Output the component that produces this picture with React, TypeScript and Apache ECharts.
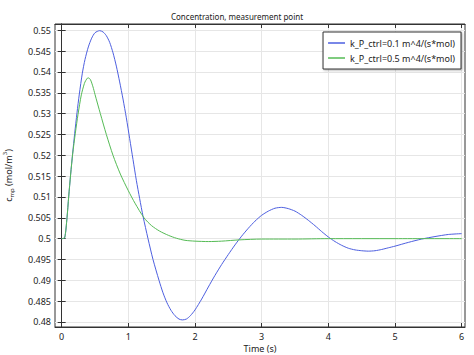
import React, { useEffect, useRef } from "react";
import * as echarts from "echarts";

const titleText = "Concentration, measurement point";
const seriesNames = ["k_P_ctrl=0.1 m^4/(s*mol)", "k_P_ctrl=0.5 m^4/(s*mol)"];
const xTicks = [0, 1, 2, 3, 4, 5, 6];
const yTicks = [0.48, 0.485, 0.49, 0.495, 0.5, 0.505, 0.51, 0.515, 0.52, 0.525, 0.53, 0.535, 0.54, 0.545, 0.55];

const tBlue = [0, 0.045, 0.08, 0.105, 0.135, 0.165, 0.195, 0.23, 0.265, 0.31, 0.35, 0.4, 0.45, 0.5, 0.57, 0.62, 0.67, 0.72, 0.77, 0.82, 0.87, 0.92, 0.97, 1.02, 1.07, 1.12, 1.17, 1.22, 1.295, 1.37, 1.46, 1.52, 1.58, 1.64, 1.7, 1.76, 1.81, 1.87, 1.93, 2.0, 2.1, 2.2, 2.3, 2.4, 2.5, 2.6, 2.7, 2.8, 2.9, 3.0, 3.1, 3.2, 3.3, 3.4, 3.5, 3.6, 3.7, 3.8, 3.9, 4.0, 4.1, 4.2, 4.3, 4.4, 4.5, 4.6, 4.7, 4.8, 4.9, 5.0, 5.2, 5.4, 5.6, 5.8, 6.0];
const vBlue = [0.5, 0.5002, 0.505, 0.51, 0.5155, 0.5205, 0.5252, 0.5302, 0.5347, 0.5397, 0.543, 0.546, 0.5481, 0.5494, 0.5499, 0.5496, 0.5487, 0.5471, 0.5446, 0.5414, 0.5376, 0.5335, 0.529, 0.524, 0.519, 0.514, 0.5096, 0.5054, 0.5, 0.495, 0.49, 0.487, 0.4846, 0.4828, 0.4815, 0.4807, 0.4805, 0.4807, 0.4815, 0.4829, 0.4855, 0.4884, 0.4912, 0.4938, 0.4962, 0.4985, 0.5006, 0.5025, 0.5042, 0.5056, 0.5066, 0.5073, 0.5075, 0.5072, 0.5066, 0.5056, 0.5044, 0.5031, 0.5017, 0.5004, 0.4993, 0.4984, 0.4977, 0.4973, 0.4971, 0.497, 0.4971, 0.4974, 0.4978, 0.4982, 0.4991, 0.4999, 0.5005, 0.501, 0.5012];

const tGreen = [0, 0.045, 0.08, 0.105, 0.135, 0.165, 0.205, 0.245, 0.295, 0.34, 0.36, 0.395, 0.43, 0.47, 0.5, 0.58, 0.67, 0.77, 0.88, 1.0, 1.1, 1.235, 1.35, 1.47, 1.6, 1.72, 1.85, 2.0, 2.2, 2.4, 2.66, 3.0, 3.5, 4.0, 5.0, 6.0];
const vGreen = [0.5, 0.5002, 0.505, 0.51, 0.5155, 0.5203, 0.5253, 0.5298, 0.5345, 0.5372, 0.5379, 0.5386, 0.5382, 0.5364, 0.5346, 0.53, 0.525, 0.52, 0.5155, 0.5115, 0.5085, 0.505, 0.5031, 0.5018, 0.5008, 0.5001, 0.4996, 0.4994, 0.4993, 0.4994, 0.4997, 0.4999, 0.4999, 0.5, 0.5, 0.5];

const FONT = "Noto Sans";
const TXT = "#222";

export default function App() {
  const ref = useRef<HTMLDivElement>(null);
  useEffect(() => {
    if (!ref.current) return;
    const chart = echarts.init(ref.current, undefined, { renderer: "svg" });
    const xMin = -0.1, xMax = 6.05, yMin = 0.4788, yMax = 0.5515;
    const fmtY = (v: number) => String(+v.toFixed(3));
    const tickCommon = { inside: true, length: 4, lineStyle: { color: "#333" } };
    const lineCommon = { show: true, lineStyle: { color: "#333", width: 1 } };
    chart.setOption({
      animation: false,
      textStyle: { fontFamily: FONT },
      title: {
        text: titleText,
        left: "center",
        top: 7,
        textStyle: { fontSize: 8, fontWeight: "normal", color: TXT, fontFamily: FONT },
      },
      grid: { left: 55, right: 9, top: 24, bottom: 28, show: true, borderColor: "#333", borderWidth: 1, outerBoundsMode: "none", containLabel: false },
      legend: {
        orient: "vertical",
        right: 13,
        top: 32,
        padding: [5, 6, 5, 5],
        itemGap: 3,
        itemWidth: 17,
        itemHeight: 1.5,
        icon: "rect",
        borderColor: "#333",
        borderWidth: 1,
        backgroundColor: "#fff",
        shadowBlur: 2,
        shadowOffsetX: 1,
        shadowOffsetY: 1,
        shadowColor: "rgba(0,0,0,0.3)",
        textStyle: { fontSize: 9, color: TXT, fontFamily: FONT, lineHeight: 12 },
        data: seriesNames,
      },
      xAxis: [
        {
          type: "value",
          min: xMin,
          max: xMax,
          name: "Time (s)",
          nameLocation: "middle",
          nameGap: 16,
          nameMoveOverlap: false,
          nameTextStyle: { fontSize: 9, color: TXT, fontFamily: FONT, lineHeight: 11 },
          axisLine: lineCommon,
          axisTick: { ...tickCommon, customValues: xTicks },
          axisLabel: { customValues: xTicks, fontSize: 9, color: TXT, margin: 5, fontFamily: FONT },
          splitLine: { show: true, lineStyle: { color: "#e6e6e6", width: 1 } },
        },
        {
          type: "value",
          position: "top",
          min: xMin,
          max: xMax,
          axisLine: lineCommon,
          axisTick: { ...tickCommon, customValues: xTicks },
          axisLabel: { show: false },
          splitLine: { show: false },
        },
      ],
      yAxis: [
        {
          type: "value",
          min: yMin,
          max: yMax,
          name: "{c|c}{sub|mp}{n| (mol/m}{sup|3}{n|)}",
          nameLocation: "middle",
          nameRotate: 90,
          nameGap: 40,
          nameMoveOverlap: false,
          nameTextStyle: {
            fontFamily: FONT,
            color: TXT,
            rich: {
              c: { fontSize: 9, color: TXT, fontFamily: FONT, lineHeight: 13, verticalAlign: "middle" },
              n: { fontSize: 9, color: TXT, fontFamily: FONT, lineHeight: 13, verticalAlign: "middle" },
              sub: { fontSize: 6, color: TXT, fontFamily: FONT, lineHeight: 13, verticalAlign: "bottom" },
              sup: { fontSize: 6, color: TXT, fontFamily: FONT, lineHeight: 13, verticalAlign: "top" },
            },
          },
          axisLine: lineCommon,
          axisTick: { ...tickCommon, customValues: yTicks },
          axisLabel: { customValues: yTicks, fontSize: 9, color: TXT, margin: 4, formatter: fmtY, fontFamily: FONT },
          splitLine: { show: true, lineStyle: { color: "#e6e6e6", width: 1 } },
        },
        {
          type: "value",
          position: "right",
          min: yMin,
          max: yMax,
          axisLine: lineCommon,
          axisTick: { ...tickCommon, customValues: yTicks },
          axisLabel: { show: false },
          splitLine: { show: false },
        },
      ],
      series: [
        {
          name: seriesNames[0],
          type: "line",
          data: tBlue.map((t, i) => [t, vBlue[i]]),
          symbol: "none",
          smooth: 0.25,
          lineStyle: { color: "#4d5fe0", width: 1 },
          itemStyle: { color: "#4d5fe0" },
        },
        {
          name: seriesNames[1],
          type: "line",
          data: tGreen.map((t, i) => [t, vGreen[i]]),
          symbol: "none",
          smooth: 0.25,
          lineStyle: { color: "#55bb55", width: 1 },
          itemStyle: { color: "#55bb55" },
        },
      ],
    });
    return () => chart.dispose();
  }, []);
  return <div ref={ref} style={{ width: 474, height: 355, position: "absolute", left: 0, top: 0 }} />;
}
